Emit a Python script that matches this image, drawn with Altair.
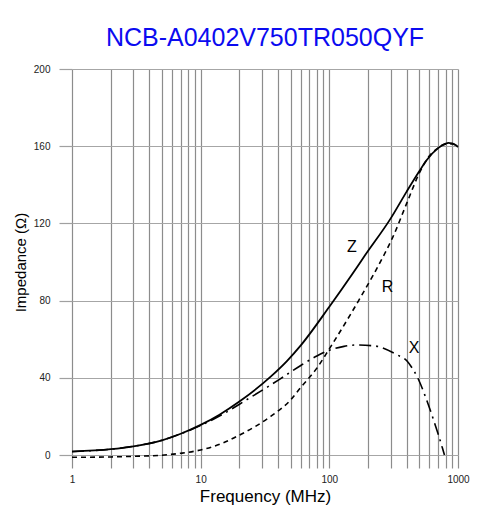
import altair as alt
import pandas as pd

# ---- data ----
z_freq = [1, 2, 3, 5, 7, 10, 14, 20, 35, 47, 60, 100, 150, 190, 300, 400, 500, 570, 700, 800, 840, 900, 950, 1000]
z_val = [1.8, 3.0, 4.5, 7.6, 11.0, 15.6, 20.9, 27.7, 40.6, 48.8, 56.8, 76.8, 93.5, 103.6, 122.6, 136.6, 147, 152.7, 159, 161.3, 161.7, 161.5, 160.7, 159.6]

r_freq = [1, 2, 3, 5, 7, 10, 15, 20, 35, 50, 60, 80, 100, 145, 183, 263, 312, 400, 500, 600, 700, 800, 900, 1000]
r_val = [-1.2, -1.0, -0.7, -0.1, 0.9, 2.6, 6.3, 10.3, 20, 28.5, 35, 45, 55, 72.5, 84, 103, 113, 130.5, 146, 155, 159, 161.1, 161.2, 159.6]

x_freq = [1, 2, 3, 5, 7, 10, 15, 23, 33, 41, 50, 60, 80, 100, 130, 163, 225, 334, 400, 450, 490, 560, 643, 700, 750, 785]
x_val = [1.8, 3.0, 4.5, 7.6, 11.0, 15.3, 21.3, 28.8, 35.2, 39.2, 43, 46.4, 51.3, 54.3, 56.3, 57, 56.5, 52, 48.8, 44, 39.5, 30, 18.5, 11, 4.5, 0]

label_text = ["Z", "R", "X"]
label_freq = [150, 283, 455]
label_val = [107.8, 87.3, 55.2]

x_ticks = [1, 2, 3, 4, 5, 6, 7, 8, 9, 10, 20, 30, 40, 50, 60, 70, 80, 90, 100,
           200, 300, 400, 500, 600, 700, 800, 900, 1000]
y_ticks = [0, 20, 40, 60, 80, 100, 120, 140, 160, 180, 200]

FONT = "Liberation Sans"

z_df = pd.DataFrame({"f": z_freq, "v": z_val})
r_df = pd.DataFrame({"f": r_freq, "v": r_val})
x_df = pd.DataFrame({"f": x_freq, "v": x_val})
lab_df = pd.DataFrame({"t": label_text, "f": label_freq, "v": label_val})

xscale = alt.Scale(type="log", domain=[1, 1000], nice=False)
yscale = alt.Scale(domain=[0, 200], nice=False, zero=False)

xaxis = alt.Axis(
    values=x_ticks,
    labelExpr="(datum.value == 1 || datum.value == 10 || datum.value == 100 || datum.value == 1000) ? '' + datum.value : ''",
    labelOverlap=False, labelFlush=False,
    grid=True, gridColor="#8c8c8c", gridWidth=1.2,
    ticks=True, tickSize=13, tickColor="#8c8c8c", tickWidth=1.2,
    domain=False,
    labelFont=FONT, labelFontSize=10, labelColor="#222", labelPadding=6,
    title="Frequency (MHz)", titleFont=FONT, titleFontSize=17, titleFontWeight="normal",
    titleColor="#000", titlePadding=4,
)
yaxis = alt.Axis(
    values=y_ticks,
    labelExpr="datum.value % 40 == 0 ? '' + datum.value : ''",
    labelOverlap=False, labelFlush=False,
    grid=True, gridColor="#a6a6a6", gridWidth=1.2,
    ticks=True, tickSize={"expr": "datum.value % 40 == 0 ? 13 : 7"}, tickColor="#a0a0a0", tickWidth=1.2,
    domain=False,
    labelFont=FONT, labelFontSize=10, labelColor="#222", labelPadding=9,
    title="Impedance (Ω)", titleFont=FONT, titleFontSize=15, titleFontWeight="normal",
    titleColor="#000", titlePadding=5,
)

base_x = alt.X("f:Q", scale=xscale, axis=xaxis)
base_y = alt.Y("v:Q", scale=yscale, axis=yaxis)

z_line = alt.Chart(z_df).mark_line(color="black", strokeWidth=1.8, interpolate="monotone").encode(
    x=base_x, y=base_y)
r_line = alt.Chart(r_df).mark_line(color="black", strokeWidth=1.6, strokeDash=[5, 4], interpolate="monotone").encode(
    x=alt.X("f:Q", scale=xscale), y=alt.Y("v:Q", scale=yscale))
x_line = alt.Chart(x_df).mark_line(color="black", strokeWidth=1.6, strokeDash=[12, 5, 2, 5], interpolate="monotone").encode(
    x=alt.X("f:Q", scale=xscale), y=alt.Y("v:Q", scale=yscale))
labels = alt.Chart(lab_df).mark_text(font=FONT, fontSize=16, color="black").encode(
    x=alt.X("f:Q", scale=xscale), y=alt.Y("v:Q", scale=yscale), text="t:N")

chart = alt.layer(z_line, r_line, x_line, labels).properties(
    width=386, height=386,
    title=alt.TitleParams(
        "NCB-A0402V750TR050QYF", font=FONT, fontSize=25, fontWeight="normal",
        color="#0b0bf0", anchor="middle", baseline="bottom", offset=14, dy=26,
    ),
    autosize=alt.AutoSizeParams(type="none"),
    padding={"left": 72, "top": 69, "right": 46, "bottom": 73},
).configure_view(stroke=None)

chart.save("out.html", embed_options={"renderer": "svg", "actions": False})
